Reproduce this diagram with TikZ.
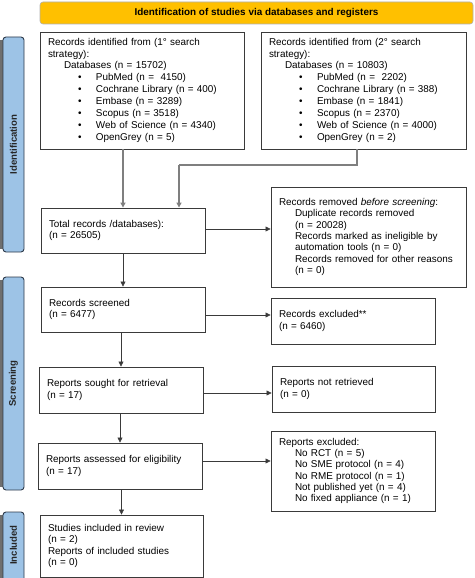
\documentclass[tikz,border=0pt]{standalone}
\usepackage{fontspec}
\setmainfont{Liberation Sans}
\usetikzlibrary{arrows.meta}
\definecolor{boxc}{HTML}{3A3A3A}
\definecolor{bannerfill}{HTML}{FFC000}
\definecolor{bannerdraw}{HTML}{B0B0B0}
\definecolor{sidefill}{HTML}{9DC3E6}
\definecolor{sidedraw}{HTML}{2E3A4A}
\definecolor{sideshadow}{HTML}{6F6F6F}
\definecolor{linegrey}{HTML}{7F7F7F}
\definecolor{linedark}{HTML}{3A3A3A}
\tikzset{
  bx/.style n args={3}{draw=boxc, line width=0.9pt, fill=white, inner xsep=8pt, inner ysep=2pt,
    align=left, minimum width=#1pt, minimum height=#2pt, text width=#3pt,
    font=\fontsize{9.9}{11.3}\selectfont},
  sidebar/.style={draw=sidedraw, line width=0.9pt, fill=sidefill, rounded corners=3pt},
  sideshade/.style={fill=sideshadow, draw=none},
  sidelabel/.style={rotate=90, font=\fontsize{9.6}{11}\selectfont\bfseries, text=black!85},
  flowthick/.style={draw=linegrey, line width=1.2pt, -{Triangle[length=5pt,width=5pt]}},
  flow/.style={draw=linedark, line width=0.6pt, -{Triangle[length=5pt,width=5pt]}},
  flowplain/.style={draw=linegrey, line width=1.2pt},
}
\newcommand{\bul}[1]{\hspace*{30pt}\makebox[18pt][l]{\textbullet}#1}
\newcommand{\ind}{\hspace*{16pt}}
\begin{document}
\begin{tikzpicture}[x=1pt,y=-1pt]
\useasboundingbox (0,0) rectangle (474,578);
\clip (0,0) rectangle (474,578);
% banner
\node[draw=bannerdraw, line width=0.6pt, fill=bannerfill, rounded corners=3pt,
  minimum width=433pt, minimum height=22pt, inner sep=0pt,
  font=\fontsize{9.9}{11}\selectfont\bfseries] (banner) at (256.5,13)
  {Identification of studies via databases and registers};
% side bars
\fill[sideshade] (0,40) rectangle (4,249);
\draw[sidebar] (3,37) rectangle (24,252);
\node[sidelabel] (lid) at (13.5,144.5) {Identification};
\fill[sideshade] (0,280) rectangle (4,487);
\draw[sidebar] (3,277) rectangle (24,490);
\node[sidelabel] (lsc) at (13.5,383.5) {Screening};
\fill[sideshade] (0,515) rectangle (4,600);
\draw[sidebar] (3,512) rectangle (24,600);
\node[sidelabel] (lin) at (13.5,545) {Included};
% boxes
\node[bx={204}{117}{188}] (b1) at (142,90.5) {Records identified from (1° search\\strategy):\\
\ind Databases (n = 15702)\\[0.9pt]
\bul{PubMed (n = ~4150)}\\[0.6pt]
\bul{Cochrane Library (n = 400)}\\[0.6pt]
\bul{Embase (n = 3289)}\\[0.6pt]
\bul{Scopus (n = 3518)}\\[0.6pt]
\bul{Web of Science (n = 4340)}\\[0.6pt]
\bul{OpenGrey (n = 5)}};
\node[bx={205}{117}{189}] (b2) at (363.5,90.5) {Records identified from (2° search\\strategy):\\
\ind Databases (n = 10803)\\[0.9pt]
\bul{PubMed (n = ~2202)}\\[0.6pt]
\bul{Cochrane Library (n = 388)}\\[0.6pt]
\bul{Embase (n = 1841)}\\[0.6pt]
\bul{Scopus (n = 2370)}\\[0.6pt]
\bul{Web of Science (n = 4000)}\\[0.6pt]
\bul{OpenGrey (n = 2)}};
\node[bx={164}{45}{148}] (tot) at (123,230.5) {Total records /databases):\\(n = 26505)};
\node[bx={195}{100}{179}] (rem) at (368.5,237) {Records removed \textit{before screening}:\\
\ind Duplicate records removed\\
\ind (n = 20028)\\
\ind Records marked as ineligible by\\
\ind automation tools (n = 0)\\
\ind Records removed for other reasons\\
\ind (n = 0)};
\node[bx={164}{45}{148}] (scr) at (123,309.5) {Records screened\\(n = 6477)};
\node[bx={164}{46}{148}] (exc) at (353,321) {Records excluded**\\(n = 6460)};
\node[bx={164}{46}{148}] (sou) at (121,390) {Reports sought for retrieval\\(n = 17)};
\node[bx={163}{46}{147}] (nr) at (353.5,389) {Reports not retrieved\\(n = 0)};
\node[bx={164}{46}{148}] (ass) at (120,466) {Reports assessed for eligibility\\(n = 17)};
\node[bx={164}{80}{148}] (rex) at (353,471) {Reports excluded:\\
\ind No RCT (n = 5)\\
\ind No SME protocol (n = 4)\\
\ind No RME protocol (n = 1)\\
\ind Not published yet (n = 4)\\
\ind No fixed appliance (n = 1)};
\node[bx={163}{62}{147}] (inc) at (121.5,546) {Studies included in review\\(n = 2)\\Reports of included studies\\(n = 0)};
% connectors
\coordinate (j1) at (357,165);
\coordinate (j2) at (179,165);
\draw[flowthick] (tot.north |- b1.south) -- (tot.north);
\draw[flowplain] (j1 |- b2.south) -- (j1) -- (j2);
\draw[flowthick] (j2) -- (j2 |- tot.north);
\draw[flow] ([yshift=1.5pt]tot.east) -- ([yshift=1.5pt]tot.east -| rem.west);
\draw[flow] (tot.south) -- (tot.south |- scr.north);
\draw[flow] ([yshift=-5.5pt]scr.east) -- ([yshift=-5.5pt]scr.east -| exc.west);
\draw[flow] (scr.south -| sou.north) -- (sou.north);
\draw[flow] ([yshift=-3pt]sou.east) -- ([yshift=-3pt]sou.east -| nr.west);
\draw[flow] (sou.south -| ass.north) -- (ass.north);
\draw[flow] ([yshift=5pt]ass.east) -- ([yshift=5pt]ass.east -| rex.west);
\draw[flow] (ass.south -| inc.north) -- (inc.north);
\end{tikzpicture}
\end{document}
